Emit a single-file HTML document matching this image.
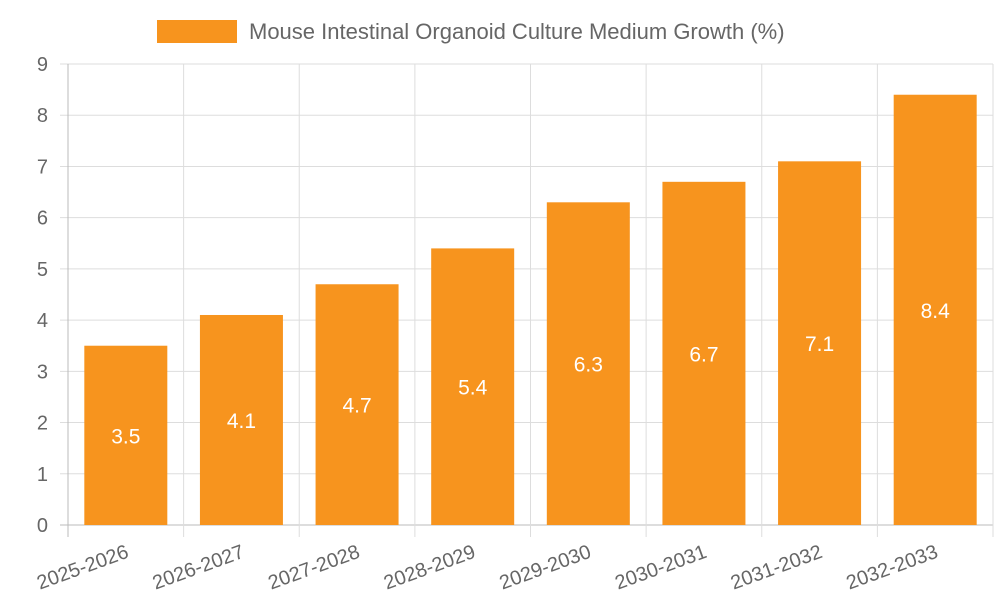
<!DOCTYPE html>
<html><head><meta charset="utf-8"><style>
body{margin:0;background:#fff;}
svg text{font-family:"Liberation Sans",sans-serif;}
</style></head><body>
<svg id="chart" width="1000" height="600" xmlns="http://www.w3.org/2000/svg">
<rect x="157" y="20" width="80" height="23" fill="#f7941e"/>
<text x="249" y="39" font-size="22" fill="#666">Mouse Intestinal Organoid Culture Medium Growth (%)</text>
<g id="grid"></g><g id="bars"></g><g id="labels"></g>
</svg>
<script>
const categories=["2025-2026","2026-2027","2027-2028","2028-2029","2029-2030","2030-2031","2031-2032","2032-2033"];
const values=[3.5,4.1,4.7,5.4,6.3,6.7,7.1,8.4];
const yTicks=[0,1,2,3,4,5,6,7,8,9];
const NS="http://www.w3.org/2000/svg";
const L=68,R=993,T=64,B=525,yMax=9;
const bw=(R-L)/categories.length;
const y=v=>B-(v/yMax)*(B-T);
const xc=i=>L+bw*(i+0.5);
function mk(tag,attrs,parent){const e=document.createElementNS(NS,tag);for(const k in attrs)e.setAttribute(k,attrs[k]);parent.appendChild(e);return e;}
const grid=document.getElementById('grid'),bars=document.getElementById('bars'),labs=document.getElementById('labels');
yTicks.forEach(t=>{
 const ln=mk('line',{x1:L-8,x2:R,y1:y(t),y2:y(t),stroke:t===0?'#bbb':'#ddd','stroke-width':1},grid);
 
 
 const tx=mk('text',{x:L-20,y:y(t)+7,'text-anchor':'end','font-size':20,fill:'#666'},grid);
 tx.textContent=t;
 
 
});
for(let i=0;i<=categories.length;i++){
 const gx=L+bw*i;
 const ln=mk('line',{x1:gx,x2:gx,y1:T,y2:B+12,stroke:i===0?'#bbb':'#ddd','stroke-width':1},grid);
 
 
}
categories.forEach((c,i)=>{
 const w=83,v=values[i];
 const r=mk('rect',{x:xc(i)-w/2,y:y(v),width:w,height:B-y(v),fill:'#f7941e'},bars);
 
 
 const vt=mk('text',{x:xc(i),y:(y(v)+B)/2+8,'text-anchor':'middle','font-size':21,fill:'#fff'},labs);
 vt.textContent=v;
 
 
 const ct=mk('text',{x:0,y:0,'text-anchor':'end','font-size':20,fill:'#666',transform:`translate(${xc(i)+4},${B+32}) rotate(-20)`},labs);
 ct.textContent=c;
 
 
});
</script>
</body></html>
